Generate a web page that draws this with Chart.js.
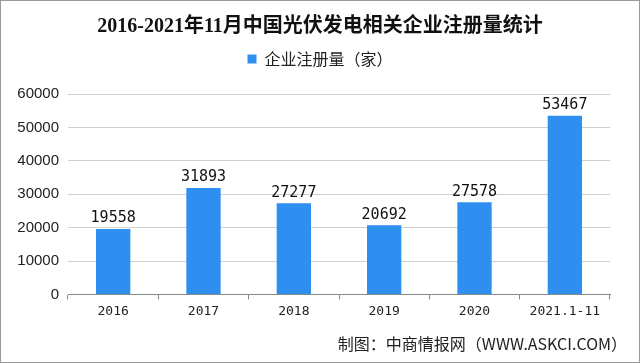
<!DOCTYPE html>
<html>
<head>
<meta charset="utf-8">
<script src="https://cdn.jsdelivr.net/npm/chart.js@4"></script>
<style>
  html, body { margin: 0; padding: 0; background: #fff; }
  .wrap { width: 638px; height: 361px; border: 1px solid #9a9a9a; position: relative; }
</style>
</head>
<body>
<div class="wrap"><canvas id="myChart" width="638" height="361"></canvas></div>
<script>
const categories = ['2016', '2017', '2018', '2019', '2020', '2021.1-11'];
const registrations = [19558, 31893, 27277, 20692, 27578, 53467];
const yTicks = [0, 10000, 20000, 30000, 40000, 50000, 60000];

const cjk = '"Noto Sans CJK SC", sans-serif';

// value labels above each bar + footer note
const barLabels = {
    id: 'barLabels',
    beforeInit(chart) {
        // extra space between legend and plot
        const orig = chart.legend.fit;
        chart.legend.fit = function () {
            orig.call(this);
            this.height += 17;
        };
    },
    afterLayout(chart) {
        // center title and legend on the whole canvas
        [chart.titleBlock, chart.legend].forEach(box => {
            box.left = 0;
            box.right = chart.width;
            box.width = chart.width;
        });
    },
    afterDatasetsDraw(chart) {
        const ctx = chart.ctx;
        const meta = chart.getDatasetMeta(0);
        ctx.save();
        ctx.font = '15px "DejaVu Sans Mono", monospace';
        ctx.fillStyle = '#111';
        ctx.textAlign = 'center';
        ctx.textBaseline = 'bottom';
        meta.data.forEach((bar, i) => {
            ctx.fillText(registrations[i], bar.x, bar.y - 3);
        });
        ctx.font = '16px ' + cjk;
        ctx.fillStyle = '#222';
        ctx.textAlign = 'right';
        ctx.textBaseline = 'middle';
        ctx.fillText('制图：中商情报网（WWW.ASKCI.COM）', chart.width - 12, 343);
        ctx.restore();
    }
};

const ctx = document.getElementById('myChart');
const myChart = new Chart(ctx, {
    type: 'bar',
    data: {
        labels: categories,
        datasets: [{
            label: '企业注册量（家）',
            data: registrations,
            backgroundColor: '#2f8ff0',
            categoryPercentage: 1,
            barPercentage: 0.38
        }]
    },
    options: {
        responsive: false,
        animation: false,
        layout: {
            padding: { left: 4, right: 29, top: 0, bottom: 39 }
        },
        scales: {
            y: {
                min: 0,
                max: 60000,
                afterBuildTicks: (scale) => {
                    scale.ticks = yTicks.map(v => ({ value: v }));
                },
                afterFit: (scale) => {
                    scale.width = 63;
                },
                ticks: {
                    font: { size: 15, family: '"Liberation Sans", sans-serif' },
                    color: '#222',
                    padding: 9,
                    callback: (v) => String(v)
                },
                grid: {
                    color: '#cfcfcf',
                    drawTicks: false
                },
                border: { display: false }
            },
            x: {
                ticks: {
                    font: { size: 13, family: '"DejaVu Sans Mono", monospace' },
                    color: '#222',
                    padding: 4
                },
                grid: {
                    drawOnChartArea: false,
                    drawTicks: true,
                    tickLength: 5,
                    offset: true,
                    color: '#888'
                },
                border: { display: true, color: '#888' }
            }
        },
        plugins: {
            title: {
                display: true,
                text: '2016-2021年11月中国光伏发电相关企业注册量统计',
                font: { size: 20, weight: 'bold', family: '"Liberation Serif", ' + cjk },
                color: '#111',
                padding: { top: 14, bottom: 2 }
            },
            legend: {
                labels: {
                    font: { size: 16, family: cjk },
                    color: '#222',
                    boxWidth: 9,
                    boxHeight: 9
                }
            },
            tooltip: { enabled: false }
        }
    },
    plugins: [barLabels]
});
</script>
</body>
</html>
